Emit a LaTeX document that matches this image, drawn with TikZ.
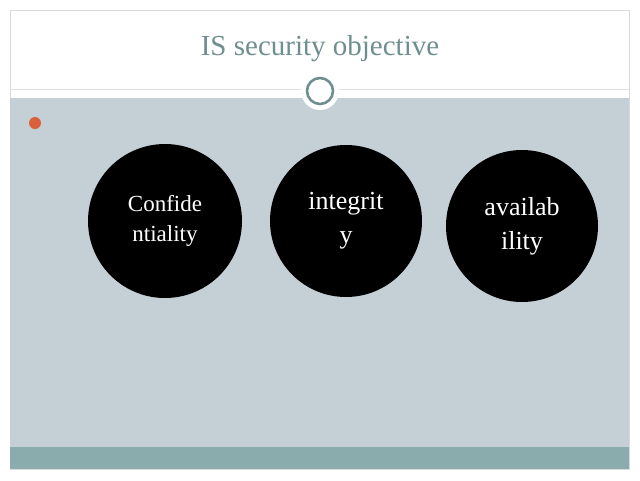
\documentclass[tikz,border=0pt]{standalone}
\usepackage{fontspec}
\setmainfont{Liberation Serif}
\definecolor{bodygrey}{HTML}{C5D0D6}
\definecolor{barteal}{HTML}{8AACAC}
\definecolor{titleteal}{HTML}{6F8F8F}
\definecolor{dotred}{HTML}{D9603B}
\begin{document}
\begin{tikzpicture}[x=1pt,y=-1pt,
  goal/.style={circle,fill=black,text=white,align=center,font=\fontsize{26}{34}\selectfont,inner sep=0pt}]

% Page and frame
\useasboundingbox (0,0) rectangle (640,480);
\fill[white] (0,0) rectangle (640,480);
\draw[gray!30] (10,10) rectangle (629,469);

% Body and bottom bar
\fill[bodygrey] (10,98) rectangle (629,447);
\fill[barteal] (10,447) rectangle (629,469);
\draw[gray!25] (10,89) -- (629,89);

% Ring on the title rule
\fill[white] (320,91) circle[radius=19];
\draw[titleteal,line width=2.6pt] (320,91) circle[radius=13];

% Title and bullet
\node[text=titleteal,font=\fontsize{29}{32}\selectfont] (title) at (320,49) {IS security objective};
\fill[dotred] (35,123) circle[radius=6];

% Objectives
\node[goal,minimum size=154,font=\fontsize{23}{30}\selectfont] (conf) at (165,221) {Confide\\ntiality};
\node[goal,minimum size=152] (integ) at (346,221) {integrit\\y};
\node[goal,minimum size=152] (avail) at (522,226) {availab\\ility};

\end{tikzpicture}
\end{document}
